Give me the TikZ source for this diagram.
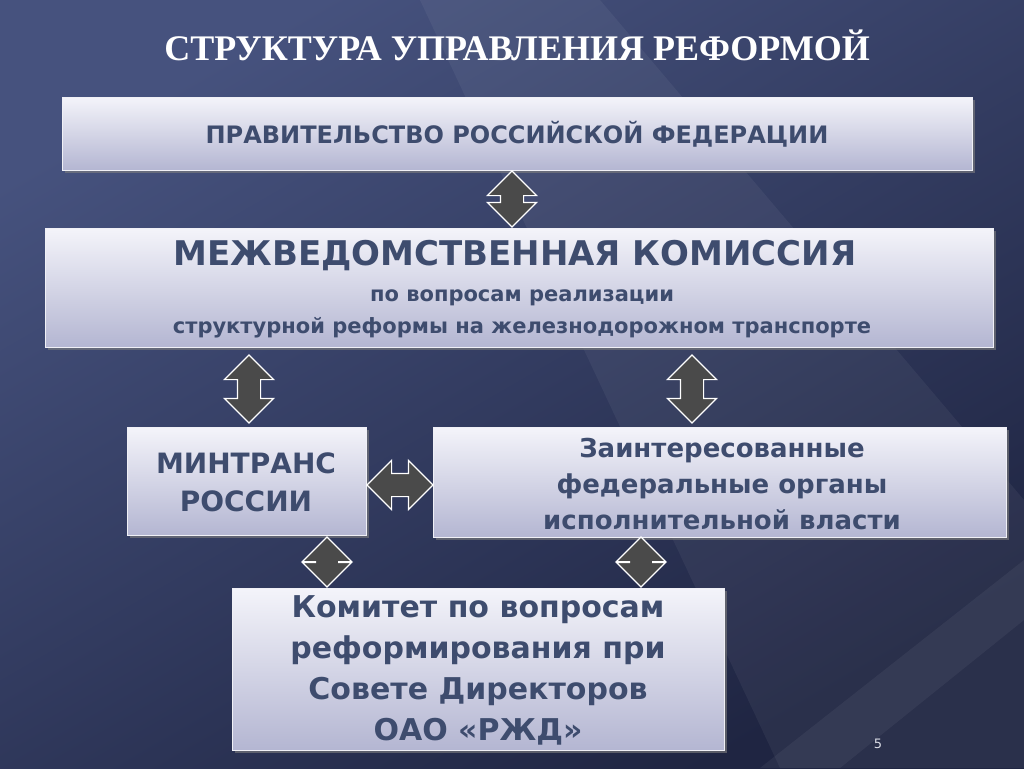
\documentclass[tikz,border=0pt]{standalone}
\usepackage{fontspec}
\setmainfont{DejaVu Sans}
\newfontfamily\titlefont{Liberation Serif}
\usetikzlibrary{shapes.arrows,shadows}
\definecolor{bgA}{HTML}{46527E}
\definecolor{bgB}{HTML}{1F2542}
\definecolor{txt}{HTML}{3E4C6E}
\definecolor{boxA}{HTML}{F4F4FA}
\definecolor{boxB}{HTML}{B4B6D2}
\definecolor{arr}{HTML}{4A4A4A}
\begin{document}
\begin{tikzpicture}[x=1pt,y=-1pt,
  panel/.style={draw=white!80!boxB,line width=1pt,top color=boxA,bottom color=boxB,
    drop shadow={opacity=0.6,shadow xshift=3pt,shadow yshift=-3pt}},
  lbl/.style={text=txt,font=\bfseries,align=center,inner sep=0pt},
  dbl/.style={double arrow,fill=arr,draw=white,line width=1.2pt,minimum height=#1,
    inner sep=11pt,double arrow head extend=13pt},
  vdbl/.style={dbl=#1,shape border rotate=90}]
\useasboundingbox (0,0) rectangle (1024,768);
\shade[top color=bgA,bottom color=bgB,shading angle=30] (0,0) rectangle (1024,768);
\fill[white,opacity=0.05] (600,0) -- (1024,500) -- (1024,768) -- (780,768) -- (420,0) -- cycle;
\fill[white,opacity=0.05] (1024,560) -- (760,768) -- (840,768) -- (1024,620) -- cycle;
\node[text=white,font=\titlefont\bfseries\fontsize{36}{40}\selectfont] (title) at (517,45) {СТРУКТУРА УПРАВЛЕНИЯ РЕФОРМОЙ};

\path[panel] (62,97) rectangle (972,170);
\node[lbl,font=\bfseries\fontsize{24}{28}\selectfont] (gov) at (517,134) {ПРАВИТЕЛЬСТВО РОССИЙСКОЙ ФЕДЕРАЦИИ};
\path[panel] (45,228) rectangle (993,347);
\node[lbl,font=\bfseries\fontsize{34}{38}\selectfont] (mvk) at (515,256) {МЕЖВЕДОМСТВЕННАЯ КОМИССИЯ};
\node[lbl,font=\bfseries\fontsize{21}{32}\selectfont] (mvk2) at (522,314) {по вопросам реализации\\структурной реформы на железнодорожном транспорте};
\path[panel] (127,427) rectangle (366,535);
\node[lbl,font=\bfseries\fontsize{28}{38}\selectfont] (mt) at (246,482) {МИНТРАНС\\РОССИИ};
\path[panel] (433,427) rectangle (1006,537);
\node[lbl,font=\bfseries\fontsize{26}{36}\selectfont] (zfo) at (722,484) {Заинтересованные\\федеральные органы\\исполнительной власти};
\path[panel] (232,588) rectangle (724,750);
\node[lbl,font=\bfseries\fontsize{30}{41}\selectfont] (kom) at (478,670) {Комитет по вопросам\\реформирования при\\Совете Директоров\\ОАО «РЖД»};

\node[vdbl=56pt] (a1) at (512,199) {};
\node[vdbl=68pt] (a2) at (249,389) {};
\node[vdbl=68pt] (a3) at (692,389) {};
\node[dbl=66pt] (a4) at (400,485) {};
\node[vdbl=50pt] (a5) at (327,562) {};
\node[vdbl=50pt] (a6) at (641,562) {};
\node[text=white!80!bgA,font=\fontsize{13}{15}\selectfont] (pg) at (878,744) {5};
\end{tikzpicture}
\end{document}
